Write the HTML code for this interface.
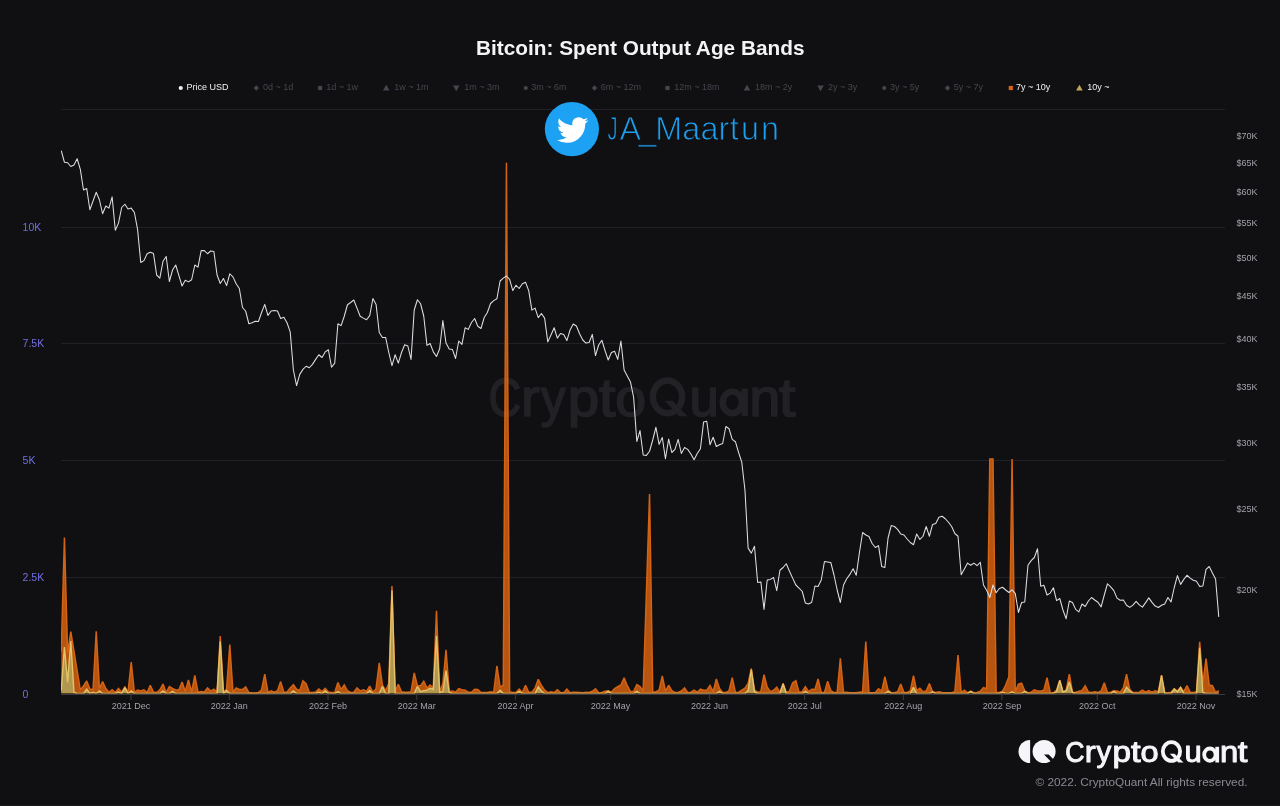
<!DOCTYPE html>
<html><head><meta charset="utf-8"><title>Bitcoin: Spent Output Age Bands</title>
<style>
html,body{margin:0;padding:0;background:#101012;}
svg{display:block;font-family:"Liberation Sans",sans-serif;will-change:transform;}
</style></head>
<body>
<svg width="1280" height="806" viewBox="0 0 1280 806">
<rect x="0" y="0" width="1280" height="806" fill="#101012"/>
<rect x="0" y="805" width="1280" height="1" fill="#1a1a1c"/>
<!-- grid -->
<line x1="61" x2="1225" y1="109.5" y2="109.5" stroke="#212027" stroke-width="1"/>
<line x1="61" x2="1225" y1="227.5" y2="227.5" stroke="#212027" stroke-width="1"/>
<line x1="61" x2="1225" y1="343.5" y2="343.5" stroke="#212027" stroke-width="1"/>
<line x1="61" x2="1225" y1="460.5" y2="460.5" stroke="#212027" stroke-width="1"/>
<line x1="61" x2="1225" y1="577.5" y2="577.5" stroke="#212027" stroke-width="1"/>
<line x1="61" x2="1225" y1="694.5" y2="694.5" stroke="#3a3a42" stroke-width="1"/>

<!-- watermark -->
<text transform="translate(488.41,415.9) scale(0.8404,1.0)" font-size="53.8" fill="#212126" stroke="#212126" stroke-width="1.6" stroke-linejoin="round">C</text>
<text transform="translate(521.11,415.9) scale(1.0498,1.0)" font-size="53.8" fill="#212126" stroke="#212126" stroke-width="1.6" stroke-linejoin="round">r</text>
<text transform="translate(540.76,415.9) scale(0.9293,1.0)" font-size="53.8" fill="#212126" stroke="#212126" stroke-width="1.6" stroke-linejoin="round">y</text>
<text transform="translate(567.84,415.9) scale(1.0501,1.0)" font-size="53.8" fill="#212126" stroke="#212126" stroke-width="1.6" stroke-linejoin="round">p</text>
<text transform="translate(599.02,415.9) scale(1.1037,1.0)" font-size="53.8" fill="#212126" stroke="#212126" stroke-width="1.6" stroke-linejoin="round">t</text>
<text transform="translate(615.13,415.9) scale(1.0304,1.0)" font-size="53.8" fill="#212126" stroke="#212126" stroke-width="1.6" stroke-linejoin="round">o</text>
<text transform="translate(689.46,415.9) scale(0.9822,1.0)" font-size="53.8" fill="#212126" stroke="#212126" stroke-width="1.6" stroke-linejoin="round">u</text>
<text transform="translate(749.21,415.9) scale(1.0414,1.0)" font-size="53.8" fill="#212126" stroke="#212126" stroke-width="1.6" stroke-linejoin="round">n</text>
<text transform="translate(779.02,415.9) scale(1.1089,1.0)" font-size="53.8" fill="#212126" stroke="#212126" stroke-width="1.6" stroke-linejoin="round">t</text>
<ellipse cx="667.47" cy="396.85" rx="14.59" ry="16.33" fill="none" stroke="#212126" stroke-width="6.46"/><polygon points="664.69,400.85 672.62,400.85 687.80,416.13 679.20,416.13" fill="#212126"/><ellipse cx="732.34" cy="402.41" rx="9.62" ry="10.77" fill="none" stroke="#212126" stroke-width="6.46"/><rect x="741.45" y="388.69" width="6.41" height="27.27" fill="#212126"/>

<!-- areas -->
<clipPath id="plot"><rect x="61" y="100" width="1164" height="593.4"/></clipPath>
<g clip-path="url(#plot)">
<polygon points="61.25,693.5 61.25,651.50 64.43,537.50 67.61,653.50 70.79,631.50 73.97,651.10 77.15,670.60 80.33,690.00 83.51,686.00 86.69,681.00 89.87,689.10 93.05,689.75 96.23,631.20 99.41,688.50 102.59,681.60 105.77,688.50 108.95,692.25 112.13,689.75 115.31,692.50 118.49,688.50 121.67,692.25 124.85,686.90 128.03,692.25 131.21,662.00 134.39,692.25 137.57,690.00 140.75,691.00 143.93,689.75 147.11,692.50 150.29,685.40 153.47,692.00 156.65,692.50 159.83,689.75 163.01,684.10 166.19,692.50 169.37,686.60 172.55,688.50 175.73,690.00 178.91,689.75 182.09,682.00 185.27,691.60 188.45,680.00 191.63,692.00 194.81,675.40 197.99,692.25 201.17,691.60 204.35,692.00 207.53,687.90 210.71,691.10 213.89,689.10 217.07,692.30 220.25,636.00 223.43,692.30 226.61,689.10 229.79,644.50 232.97,692.30 236.15,687.90 239.33,689.50 242.51,689.50 245.69,686.90 248.87,692.50 252.05,692.90 255.23,692.90 258.41,692.50 261.59,689.75 264.77,674.10 267.95,692.50 271.13,690.75 274.31,692.25 277.49,690.75 280.67,681.60 283.85,692.25 287.03,692.00 290.21,687.90 293.39,684.75 296.57,689.10 299.75,690.40 302.93,680.75 306.11,683.75 309.29,692.50 312.47,692.50 315.65,692.00 318.83,689.10 322.01,691.60 325.19,688.25 328.37,692.00 331.55,692.50 334.73,692.50 337.91,682.50 341.09,689.50 344.27,685.00 347.45,690.75 350.63,692.50 353.81,692.25 356.99,687.90 360.17,691.00 363.35,689.90 366.53,691.30 369.71,686.10 372.89,692.20 376.07,688.70 379.25,662.75 382.43,685.00 385.61,690.70 388.79,683.50 391.97,586.00 395.15,691.00 398.33,684.20 401.51,691.70 404.69,692.20 407.87,692.20 411.05,691.70 414.23,673.00 417.41,685.70 420.59,685.70 423.77,681.20 426.95,688.00 430.13,685.00 433.31,688.00 436.49,610.70 439.67,691.70 442.85,683.50 446.03,649.70 449.21,691.70 452.39,691.00 455.57,692.20 458.75,688.70 461.93,689.75 465.11,690.20 468.29,692.20 471.47,692.20 474.65,689.20 477.83,689.50 481.01,692.50 484.19,692.50 487.37,692.50 490.55,691.70 493.73,692.20 496.91,665.75 500.09,687.20 503.27,685.00 506.45,162.80 509.63,691.70 512.81,692.50 515.99,692.50 519.17,689.20 522.35,692.50 525.53,685.25 528.71,692.20 531.89,692.20 535.07,688.00 538.25,679.25 541.43,685.30 544.61,690.20 547.79,692.60 550.97,691.70 554.15,692.50 557.33,689.75 560.51,692.50 563.69,692.75 566.87,689.20 570.05,692.75 573.23,692.20 576.41,692.20 579.59,692.50 582.77,692.75 585.95,692.20 589.13,692.50 592.31,691.25 595.49,688.70 598.67,692.75 601.85,692.50 605.03,691.25 608.21,690.70 611.39,692.20 614.57,688.70 617.75,686.75 620.93,685.00 624.11,677.75 627.29,685.70 630.47,691.70 633.65,691.25 636.83,684.65 640.01,686.50 643.19,691.00 646.37,593.50 649.55,494.00 652.73,692.20 655.91,691.70 659.09,690.20 662.27,676.00 665.45,691.00 668.63,685.25 671.81,690.70 674.99,692.50 678.17,692.50 681.35,691.00 684.53,688.00 687.71,692.50 690.89,692.20 694.07,690.20 697.25,692.20 700.43,689.20 703.61,690.20 706.79,690.20 709.97,685.40 713.15,691.70 716.33,679.00 719.51,688.50 722.69,692.50 725.87,692.50 729.05,690.80 732.23,677.60 735.41,692.50 738.59,692.20 741.77,690.20 744.95,688.25 748.13,683.50 751.31,668.50 754.49,690.20 757.67,692.20 760.85,691.70 764.03,674.75 767.21,687.20 770.39,691.70 773.57,690.20 776.75,687.20 779.93,692.50 783.11,683.50 786.29,692.50 789.47,691.25 792.65,682.70 795.83,680.75 799.01,692.20 802.19,691.70 805.37,686.75 808.55,691.70 811.73,689.20 814.91,689.50 818.09,679.00 821.27,692.50 824.45,692.50 827.63,681.20 830.81,690.70 833.99,692.75 837.17,692.20 840.35,658.25 843.53,692.50 846.71,692.20 849.89,692.75 853.07,692.75 856.25,692.75 859.43,692.20 862.61,691.70 865.79,641.50 868.97,692.50 872.15,692.75 875.33,692.50 878.51,688.70 881.69,691.00 884.87,676.70 888.05,690.20 891.23,692.50 894.41,692.75 897.59,691.70 900.77,684.00 903.95,692.50 907.13,692.50 910.31,691.00 913.49,675.65 916.67,690.70 919.85,688.25 923.03,691.70 926.21,691.00 929.39,683.50 932.57,691.70 935.75,692.50 938.93,691.70 942.11,692.50 945.29,692.75 948.47,692.75 951.65,692.75 954.83,691.70 958.01,655.00 961.19,692.50 964.37,690.20 967.55,692.75 970.73,691.25 973.91,692.75 977.09,692.50 980.27,691.25 983.45,687.65 986.63,688.70 989.81,459.00 992.99,459.00 996.17,692.50 999.35,692.50 1002.53,691.25 1005.71,685.00 1008.89,676.70 1012.07,459.00 1015.25,691.70 1018.43,684.20 1021.61,683.20 1024.79,691.00 1027.97,692.75 1031.15,692.20 1034.33,689.75 1037.51,691.00 1040.69,691.00 1043.87,690.20 1047.05,677.75 1050.23,692.50 1053.41,692.75 1056.59,690.20 1059.77,680.15 1062.95,691.70 1066.13,690.20 1069.31,674.15 1072.49,692.50 1075.67,692.20 1078.85,691.25 1082.03,690.50 1085.21,685.70 1088.39,692.00 1091.57,692.40 1094.75,691.70 1097.93,692.50 1101.11,691.00 1104.29,682.70 1107.47,692.50 1110.65,692.20 1113.83,690.70 1117.01,691.00 1120.19,692.20 1123.37,688.00 1126.55,674.15 1129.73,689.50 1132.91,692.50 1136.09,692.50 1139.27,692.20 1142.45,690.20 1145.63,692.20 1148.81,690.70 1151.99,692.20 1155.17,690.70 1158.35,691.70 1161.53,675.20 1164.71,692.50 1167.89,692.75 1171.07,692.20 1174.25,688.70 1177.43,691.00 1180.61,687.20 1183.79,691.70 1186.97,685.70 1190.15,692.20 1193.33,692.50 1196.51,691.70 1199.69,641.75 1202.87,683.50 1206.05,658.70 1209.23,685.00 1212.41,685.70 1215.59,692.50 1218.77,690.70 1218.77,693.5" fill="#ea6a0f" fill-opacity="0.77"/>
<polyline points="61.25,651.50 64.43,537.50 67.61,653.50 70.79,631.50 73.97,651.10 77.15,670.60 80.33,690.00 83.51,686.00 86.69,681.00 89.87,689.10 93.05,689.75 96.23,631.20 99.41,688.50 102.59,681.60 105.77,688.50 108.95,692.25 112.13,689.75 115.31,692.50 118.49,688.50 121.67,692.25 124.85,686.90 128.03,692.25 131.21,662.00 134.39,692.25 137.57,690.00 140.75,691.00 143.93,689.75 147.11,692.50 150.29,685.40 153.47,692.00 156.65,692.50 159.83,689.75 163.01,684.10 166.19,692.50 169.37,686.60 172.55,688.50 175.73,690.00 178.91,689.75 182.09,682.00 185.27,691.60 188.45,680.00 191.63,692.00 194.81,675.40 197.99,692.25 201.17,691.60 204.35,692.00 207.53,687.90 210.71,691.10 213.89,689.10 217.07,692.30 220.25,636.00 223.43,692.30 226.61,689.10 229.79,644.50 232.97,692.30 236.15,687.90 239.33,689.50 242.51,689.50 245.69,686.90 248.87,692.50 252.05,692.90 255.23,692.90 258.41,692.50 261.59,689.75 264.77,674.10 267.95,692.50 271.13,690.75 274.31,692.25 277.49,690.75 280.67,681.60 283.85,692.25 287.03,692.00 290.21,687.90 293.39,684.75 296.57,689.10 299.75,690.40 302.93,680.75 306.11,683.75 309.29,692.50 312.47,692.50 315.65,692.00 318.83,689.10 322.01,691.60 325.19,688.25 328.37,692.00 331.55,692.50 334.73,692.50 337.91,682.50 341.09,689.50 344.27,685.00 347.45,690.75 350.63,692.50 353.81,692.25 356.99,687.90 360.17,691.00 363.35,689.90 366.53,691.30 369.71,686.10 372.89,692.20 376.07,688.70 379.25,662.75 382.43,685.00 385.61,690.70 388.79,683.50 391.97,586.00 395.15,691.00 398.33,684.20 401.51,691.70 404.69,692.20 407.87,692.20 411.05,691.70 414.23,673.00 417.41,685.70 420.59,685.70 423.77,681.20 426.95,688.00 430.13,685.00 433.31,688.00 436.49,610.70 439.67,691.70 442.85,683.50 446.03,649.70 449.21,691.70 452.39,691.00 455.57,692.20 458.75,688.70 461.93,689.75 465.11,690.20 468.29,692.20 471.47,692.20 474.65,689.20 477.83,689.50 481.01,692.50 484.19,692.50 487.37,692.50 490.55,691.70 493.73,692.20 496.91,665.75 500.09,687.20 503.27,685.00 506.45,162.80 509.63,691.70 512.81,692.50 515.99,692.50 519.17,689.20 522.35,692.50 525.53,685.25 528.71,692.20 531.89,692.20 535.07,688.00 538.25,679.25 541.43,685.30 544.61,690.20 547.79,692.60 550.97,691.70 554.15,692.50 557.33,689.75 560.51,692.50 563.69,692.75 566.87,689.20 570.05,692.75 573.23,692.20 576.41,692.20 579.59,692.50 582.77,692.75 585.95,692.20 589.13,692.50 592.31,691.25 595.49,688.70 598.67,692.75 601.85,692.50 605.03,691.25 608.21,690.70 611.39,692.20 614.57,688.70 617.75,686.75 620.93,685.00 624.11,677.75 627.29,685.70 630.47,691.70 633.65,691.25 636.83,684.65 640.01,686.50 643.19,691.00 646.37,593.50 649.55,494.00 652.73,692.20 655.91,691.70 659.09,690.20 662.27,676.00 665.45,691.00 668.63,685.25 671.81,690.70 674.99,692.50 678.17,692.50 681.35,691.00 684.53,688.00 687.71,692.50 690.89,692.20 694.07,690.20 697.25,692.20 700.43,689.20 703.61,690.20 706.79,690.20 709.97,685.40 713.15,691.70 716.33,679.00 719.51,688.50 722.69,692.50 725.87,692.50 729.05,690.80 732.23,677.60 735.41,692.50 738.59,692.20 741.77,690.20 744.95,688.25 748.13,683.50 751.31,668.50 754.49,690.20 757.67,692.20 760.85,691.70 764.03,674.75 767.21,687.20 770.39,691.70 773.57,690.20 776.75,687.20 779.93,692.50 783.11,683.50 786.29,692.50 789.47,691.25 792.65,682.70 795.83,680.75 799.01,692.20 802.19,691.70 805.37,686.75 808.55,691.70 811.73,689.20 814.91,689.50 818.09,679.00 821.27,692.50 824.45,692.50 827.63,681.20 830.81,690.70 833.99,692.75 837.17,692.20 840.35,658.25 843.53,692.50 846.71,692.20 849.89,692.75 853.07,692.75 856.25,692.75 859.43,692.20 862.61,691.70 865.79,641.50 868.97,692.50 872.15,692.75 875.33,692.50 878.51,688.70 881.69,691.00 884.87,676.70 888.05,690.20 891.23,692.50 894.41,692.75 897.59,691.70 900.77,684.00 903.95,692.50 907.13,692.50 910.31,691.00 913.49,675.65 916.67,690.70 919.85,688.25 923.03,691.70 926.21,691.00 929.39,683.50 932.57,691.70 935.75,692.50 938.93,691.70 942.11,692.50 945.29,692.75 948.47,692.75 951.65,692.75 954.83,691.70 958.01,655.00 961.19,692.50 964.37,690.20 967.55,692.75 970.73,691.25 973.91,692.75 977.09,692.50 980.27,691.25 983.45,687.65 986.63,688.70 989.81,459.00 992.99,459.00 996.17,692.50 999.35,692.50 1002.53,691.25 1005.71,685.00 1008.89,676.70 1012.07,459.00 1015.25,691.70 1018.43,684.20 1021.61,683.20 1024.79,691.00 1027.97,692.75 1031.15,692.20 1034.33,689.75 1037.51,691.00 1040.69,691.00 1043.87,690.20 1047.05,677.75 1050.23,692.50 1053.41,692.75 1056.59,690.20 1059.77,680.15 1062.95,691.70 1066.13,690.20 1069.31,674.15 1072.49,692.50 1075.67,692.20 1078.85,691.25 1082.03,690.50 1085.21,685.70 1088.39,692.00 1091.57,692.40 1094.75,691.70 1097.93,692.50 1101.11,691.00 1104.29,682.70 1107.47,692.50 1110.65,692.20 1113.83,690.70 1117.01,691.00 1120.19,692.20 1123.37,688.00 1126.55,674.15 1129.73,689.50 1132.91,692.50 1136.09,692.50 1139.27,692.20 1142.45,690.20 1145.63,692.20 1148.81,690.70 1151.99,692.20 1155.17,690.70 1158.35,691.70 1161.53,675.20 1164.71,692.50 1167.89,692.75 1171.07,692.20 1174.25,688.70 1177.43,691.00 1180.61,687.20 1183.79,691.70 1186.97,685.70 1190.15,692.20 1193.33,692.50 1196.51,691.70 1199.69,641.75 1202.87,683.50 1206.05,658.70 1209.23,685.00 1212.41,685.70 1215.59,692.50 1218.77,690.70" fill="none" stroke="#d46314" stroke-width="1.5" stroke-linejoin="miter" stroke-miterlimit="2"/>
<polygon points="61.25,693.5 61.25,690.50 64.43,647.00 67.61,682.50 70.79,641.00 73.97,692.50 77.15,693.50 80.33,693.50 83.51,693.50 86.69,689.10 89.87,693.50 93.05,692.30 96.23,693.50 99.41,691.00 102.59,693.50 105.77,693.50 108.95,693.50 112.13,693.50 115.31,693.50 118.49,692.00 121.67,693.50 124.85,687.60 128.03,693.50 131.21,691.00 134.39,693.50 137.57,693.50 140.75,693.50 143.93,693.50 147.11,693.50 150.29,693.50 153.47,693.50 156.65,693.50 159.83,693.50 163.01,691.00 166.19,693.50 169.37,693.50 172.55,691.25 175.73,693.50 178.91,693.50 182.09,693.50 185.27,693.50 188.45,693.50 191.63,693.50 194.81,693.50 197.99,693.50 201.17,693.50 204.35,693.50 207.53,693.50 210.71,693.50 213.89,693.50 217.07,693.50 220.25,641.60 223.43,693.50 226.61,690.40 229.79,693.50 232.97,693.50 236.15,693.50 239.33,693.50 242.51,693.50 245.69,693.50 248.87,693.50 252.05,693.50 255.23,693.50 258.41,693.50 261.59,693.50 264.77,693.50 267.95,693.50 271.13,693.50 274.31,693.50 277.49,693.50 280.67,693.50 283.85,693.50 287.03,693.50 290.21,693.50 293.39,691.00 296.57,693.50 299.75,693.50 302.93,693.50 306.11,693.50 309.29,693.50 312.47,693.50 315.65,693.50 318.83,692.30 322.01,693.50 325.19,691.00 328.37,693.50 331.55,693.50 334.73,693.50 337.91,691.60 341.09,693.50 344.27,693.50 347.45,693.50 350.63,693.50 353.81,693.50 356.99,693.50 360.17,693.50 363.35,693.50 366.53,693.50 369.71,690.50 372.89,693.50 376.07,693.50 379.25,693.50 382.43,686.50 385.61,693.50 388.79,693.50 391.97,590.50 395.15,693.50 398.33,693.50 401.51,693.50 404.69,693.50 407.87,693.50 411.05,693.50 414.23,693.50 417.41,686.50 420.59,691.70 423.77,690.70 426.95,690.20 430.13,688.25 433.31,689.50 436.49,635.75 439.67,692.50 442.85,691.50 446.03,670.70 449.21,692.50 452.39,693.50 455.57,693.50 458.75,693.50 461.93,693.50 465.11,693.50 468.29,693.50 471.47,693.50 474.65,693.50 477.83,693.50 481.01,693.50 484.19,693.50 487.37,693.50 490.55,693.50 493.73,693.50 496.91,693.50 500.09,690.20 503.27,693.50 506.45,693.50 509.63,693.50 512.81,693.50 515.99,693.50 519.17,691.25 522.35,693.50 525.53,693.50 528.71,693.50 531.89,693.50 535.07,693.50 538.25,686.75 541.43,691.00 544.61,693.50 547.79,693.50 550.97,693.50 554.15,693.50 557.33,693.50 560.51,693.50 563.69,693.50 566.87,693.50 570.05,693.50 573.23,693.50 576.41,693.50 579.59,693.50 582.77,693.50 585.95,693.50 589.13,693.50 592.31,693.50 595.49,693.50 598.67,693.50 601.85,693.50 605.03,693.50 608.21,691.25 611.39,693.50 614.57,693.50 617.75,693.50 620.93,693.50 624.11,693.50 627.29,693.50 630.47,693.50 633.65,693.50 636.83,691.25 640.01,693.50 643.19,693.50 646.37,693.50 649.55,693.50 652.73,693.50 655.91,693.50 659.09,693.50 662.27,693.50 665.45,693.50 668.63,693.50 671.81,693.50 674.99,693.50 678.17,693.50 681.35,693.50 684.53,693.50 687.71,693.50 690.89,693.50 694.07,693.50 697.25,693.50 700.43,693.50 703.61,693.50 706.79,693.50 709.97,693.50 713.15,693.50 716.33,693.50 719.51,691.25 722.69,693.50 725.87,693.50 729.05,693.50 732.23,693.50 735.41,693.50 738.59,693.50 741.77,693.50 744.95,693.50 748.13,690.50 751.31,669.50 754.49,692.00 757.67,693.50 760.85,693.50 764.03,693.50 767.21,693.50 770.39,693.50 773.57,693.50 776.75,693.50 779.93,693.50 783.11,683.75 786.29,693.50 789.47,693.50 792.65,693.50 795.83,693.50 799.01,693.50 802.19,693.50 805.37,691.25 808.55,693.50 811.73,693.50 814.91,693.50 818.09,693.50 821.27,693.50 824.45,693.50 827.63,693.50 830.81,693.50 833.99,693.50 837.17,693.50 840.35,693.50 843.53,693.50 846.71,693.50 849.89,693.50 853.07,693.50 856.25,693.50 859.43,693.50 862.61,693.50 865.79,693.50 868.97,693.50 872.15,693.50 875.33,693.50 878.51,693.50 881.69,693.50 884.87,693.50 888.05,691.25 891.23,693.50 894.41,693.50 897.59,693.50 900.77,693.50 903.95,693.50 907.13,693.50 910.31,693.50 913.49,687.20 916.67,693.50 919.85,693.50 923.03,693.50 926.21,693.50 929.39,693.50 932.57,691.70 935.75,693.50 938.93,693.50 942.11,693.50 945.29,693.50 948.47,693.50 951.65,693.50 954.83,693.50 958.01,693.50 961.19,693.50 964.37,693.50 967.55,693.50 970.73,691.25 973.91,693.50 977.09,693.50 980.27,693.50 983.45,693.50 986.63,693.50 989.81,693.50 992.99,693.50 996.17,693.50 999.35,693.50 1002.53,692.20 1005.71,693.50 1008.89,693.50 1012.07,691.70 1015.25,693.50 1018.43,693.50 1021.61,693.50 1024.79,691.25 1027.97,693.50 1031.15,693.50 1034.33,693.50 1037.51,693.50 1040.69,693.50 1043.87,693.50 1047.05,693.50 1050.23,693.50 1053.41,693.50 1056.59,691.50 1059.77,680.50 1062.95,692.00 1066.13,691.00 1069.31,682.00 1072.49,692.50 1075.67,693.50 1078.85,693.50 1082.03,693.50 1085.21,693.50 1088.39,693.50 1091.57,693.50 1094.75,693.50 1097.93,693.50 1101.11,693.50 1104.29,693.50 1107.47,693.50 1110.65,693.50 1113.83,691.25 1117.01,693.50 1120.19,693.50 1123.37,693.50 1126.55,687.20 1129.73,690.70 1132.91,693.50 1136.09,693.50 1139.27,693.50 1142.45,693.50 1145.63,693.50 1148.81,693.50 1151.99,693.50 1155.17,693.50 1158.35,693.50 1161.53,675.50 1164.71,693.50 1167.89,693.50 1171.07,693.50 1174.25,689.00 1177.43,692.00 1180.61,687.50 1183.79,693.50 1186.97,693.50 1190.15,693.50 1193.33,693.50 1196.51,693.50 1199.69,647.75 1202.87,692.50 1206.05,693.50 1209.23,693.50 1212.41,693.50 1215.59,693.50 1218.77,693.50 1218.77,693.5" fill="#b09c54" fill-opacity="0.95"/>
<polyline points="61.25,690.50 64.43,647.00 67.61,682.50 70.79,641.00 73.97,692.50 77.15,693.50 80.33,693.50 83.51,693.50 86.69,689.10 89.87,693.50 93.05,692.30 96.23,693.50 99.41,691.00 102.59,693.50 105.77,693.50 108.95,693.50 112.13,693.50 115.31,693.50 118.49,692.00 121.67,693.50 124.85,687.60 128.03,693.50 131.21,691.00 134.39,693.50 137.57,693.50 140.75,693.50 143.93,693.50 147.11,693.50 150.29,693.50 153.47,693.50 156.65,693.50 159.83,693.50 163.01,691.00 166.19,693.50 169.37,693.50 172.55,691.25 175.73,693.50 178.91,693.50 182.09,693.50 185.27,693.50 188.45,693.50 191.63,693.50 194.81,693.50 197.99,693.50 201.17,693.50 204.35,693.50 207.53,693.50 210.71,693.50 213.89,693.50 217.07,693.50 220.25,641.60 223.43,693.50 226.61,690.40 229.79,693.50 232.97,693.50 236.15,693.50 239.33,693.50 242.51,693.50 245.69,693.50 248.87,693.50 252.05,693.50 255.23,693.50 258.41,693.50 261.59,693.50 264.77,693.50 267.95,693.50 271.13,693.50 274.31,693.50 277.49,693.50 280.67,693.50 283.85,693.50 287.03,693.50 290.21,693.50 293.39,691.00 296.57,693.50 299.75,693.50 302.93,693.50 306.11,693.50 309.29,693.50 312.47,693.50 315.65,693.50 318.83,692.30 322.01,693.50 325.19,691.00 328.37,693.50 331.55,693.50 334.73,693.50 337.91,691.60 341.09,693.50 344.27,693.50 347.45,693.50 350.63,693.50 353.81,693.50 356.99,693.50 360.17,693.50 363.35,693.50 366.53,693.50 369.71,690.50 372.89,693.50 376.07,693.50 379.25,693.50 382.43,686.50 385.61,693.50 388.79,693.50 391.97,590.50 395.15,693.50 398.33,693.50 401.51,693.50 404.69,693.50 407.87,693.50 411.05,693.50 414.23,693.50 417.41,686.50 420.59,691.70 423.77,690.70 426.95,690.20 430.13,688.25 433.31,689.50 436.49,635.75 439.67,692.50 442.85,691.50 446.03,670.70 449.21,692.50 452.39,693.50 455.57,693.50 458.75,693.50 461.93,693.50 465.11,693.50 468.29,693.50 471.47,693.50 474.65,693.50 477.83,693.50 481.01,693.50 484.19,693.50 487.37,693.50 490.55,693.50 493.73,693.50 496.91,693.50 500.09,690.20 503.27,693.50 506.45,693.50 509.63,693.50 512.81,693.50 515.99,693.50 519.17,691.25 522.35,693.50 525.53,693.50 528.71,693.50 531.89,693.50 535.07,693.50 538.25,686.75 541.43,691.00 544.61,693.50 547.79,693.50 550.97,693.50 554.15,693.50 557.33,693.50 560.51,693.50 563.69,693.50 566.87,693.50 570.05,693.50 573.23,693.50 576.41,693.50 579.59,693.50 582.77,693.50 585.95,693.50 589.13,693.50 592.31,693.50 595.49,693.50 598.67,693.50 601.85,693.50 605.03,693.50 608.21,691.25 611.39,693.50 614.57,693.50 617.75,693.50 620.93,693.50 624.11,693.50 627.29,693.50 630.47,693.50 633.65,693.50 636.83,691.25 640.01,693.50 643.19,693.50 646.37,693.50 649.55,693.50 652.73,693.50 655.91,693.50 659.09,693.50 662.27,693.50 665.45,693.50 668.63,693.50 671.81,693.50 674.99,693.50 678.17,693.50 681.35,693.50 684.53,693.50 687.71,693.50 690.89,693.50 694.07,693.50 697.25,693.50 700.43,693.50 703.61,693.50 706.79,693.50 709.97,693.50 713.15,693.50 716.33,693.50 719.51,691.25 722.69,693.50 725.87,693.50 729.05,693.50 732.23,693.50 735.41,693.50 738.59,693.50 741.77,693.50 744.95,693.50 748.13,690.50 751.31,669.50 754.49,692.00 757.67,693.50 760.85,693.50 764.03,693.50 767.21,693.50 770.39,693.50 773.57,693.50 776.75,693.50 779.93,693.50 783.11,683.75 786.29,693.50 789.47,693.50 792.65,693.50 795.83,693.50 799.01,693.50 802.19,693.50 805.37,691.25 808.55,693.50 811.73,693.50 814.91,693.50 818.09,693.50 821.27,693.50 824.45,693.50 827.63,693.50 830.81,693.50 833.99,693.50 837.17,693.50 840.35,693.50 843.53,693.50 846.71,693.50 849.89,693.50 853.07,693.50 856.25,693.50 859.43,693.50 862.61,693.50 865.79,693.50 868.97,693.50 872.15,693.50 875.33,693.50 878.51,693.50 881.69,693.50 884.87,693.50 888.05,691.25 891.23,693.50 894.41,693.50 897.59,693.50 900.77,693.50 903.95,693.50 907.13,693.50 910.31,693.50 913.49,687.20 916.67,693.50 919.85,693.50 923.03,693.50 926.21,693.50 929.39,693.50 932.57,691.70 935.75,693.50 938.93,693.50 942.11,693.50 945.29,693.50 948.47,693.50 951.65,693.50 954.83,693.50 958.01,693.50 961.19,693.50 964.37,693.50 967.55,693.50 970.73,691.25 973.91,693.50 977.09,693.50 980.27,693.50 983.45,693.50 986.63,693.50 989.81,693.50 992.99,693.50 996.17,693.50 999.35,693.50 1002.53,692.20 1005.71,693.50 1008.89,693.50 1012.07,691.70 1015.25,693.50 1018.43,693.50 1021.61,693.50 1024.79,691.25 1027.97,693.50 1031.15,693.50 1034.33,693.50 1037.51,693.50 1040.69,693.50 1043.87,693.50 1047.05,693.50 1050.23,693.50 1053.41,693.50 1056.59,691.50 1059.77,680.50 1062.95,692.00 1066.13,691.00 1069.31,682.00 1072.49,692.50 1075.67,693.50 1078.85,693.50 1082.03,693.50 1085.21,693.50 1088.39,693.50 1091.57,693.50 1094.75,693.50 1097.93,693.50 1101.11,693.50 1104.29,693.50 1107.47,693.50 1110.65,693.50 1113.83,691.25 1117.01,693.50 1120.19,693.50 1123.37,693.50 1126.55,687.20 1129.73,690.70 1132.91,693.50 1136.09,693.50 1139.27,693.50 1142.45,693.50 1145.63,693.50 1148.81,693.50 1151.99,693.50 1155.17,693.50 1158.35,693.50 1161.53,675.50 1164.71,693.50 1167.89,693.50 1171.07,693.50 1174.25,689.00 1177.43,692.00 1180.61,687.50 1183.79,693.50 1186.97,693.50 1190.15,693.50 1193.33,693.50 1196.51,693.50 1199.69,647.75 1202.87,692.50 1206.05,693.50 1209.23,693.50 1212.41,693.50 1215.59,693.50 1218.77,693.50" fill="none" stroke="#e4c268" stroke-width="1.4" stroke-linejoin="miter" stroke-miterlimit="2"/>
<polyline points="61.25,150.60 64.43,162.25 67.61,162.75 70.79,166.50 73.97,165.00 77.15,158.75 80.33,169.40 83.51,190.00 86.69,188.50 89.87,209.75 93.05,201.00 96.23,192.25 99.41,199.75 102.59,213.75 105.77,206.00 108.95,208.10 112.13,196.90 115.31,230.25 118.49,223.10 121.67,207.50 124.85,204.25 128.03,209.00 131.21,208.10 134.39,212.50 137.57,229.40 140.75,262.50 143.93,260.60 147.11,253.75 150.29,252.25 153.47,253.50 156.65,275.00 159.83,278.10 163.01,261.25 166.19,256.50 169.37,281.50 172.55,270.00 175.73,265.00 178.91,275.60 182.09,286.00 185.27,280.25 188.45,281.90 191.63,279.75 194.81,265.00 197.99,267.10 201.17,250.60 204.35,250.60 207.53,253.75 210.71,251.00 213.89,251.50 217.07,275.00 220.25,283.50 223.43,278.50 226.61,285.60 229.79,273.75 232.97,276.90 236.15,283.75 239.33,288.50 242.51,307.50 245.69,311.25 248.87,323.75 252.05,322.75 255.23,321.25 258.41,321.50 261.59,312.50 264.77,304.40 267.95,315.40 271.13,311.00 274.31,310.60 277.49,311.00 280.67,318.50 283.85,317.25 287.03,322.75 290.21,331.90 293.39,370.00 296.57,385.60 299.75,374.40 302.93,369.40 306.11,366.25 309.29,367.75 312.47,364.40 315.65,359.40 318.83,354.75 322.01,357.50 325.19,351.90 328.37,349.75 331.55,367.25 334.73,363.10 337.91,323.75 341.09,325.60 344.27,316.25 347.45,304.75 350.63,302.50 353.81,300.00 356.99,308.10 360.17,316.25 363.35,318.10 366.53,319.75 369.71,315.60 372.89,298.50 376.07,304.40 379.25,332.50 382.43,337.50 385.61,337.40 388.79,352.50 391.97,365.60 395.15,354.75 398.33,363.10 401.51,352.50 404.69,344.75 407.87,346.00 411.05,359.40 414.23,310.00 417.41,299.75 420.59,303.75 423.77,316.25 426.95,345.40 430.13,343.50 433.31,351.90 436.49,356.50 439.67,348.75 442.85,320.60 446.03,343.10 449.21,349.00 452.39,349.40 455.57,358.50 458.75,341.00 461.93,344.40 465.11,327.75 468.29,329.40 471.47,322.50 474.65,318.50 477.83,326.25 481.01,328.50 484.19,317.50 487.37,312.50 490.55,303.50 493.73,300.60 496.91,298.75 500.09,281.00 503.27,278.10 506.45,276.00 509.63,279.40 512.81,290.60 515.99,285.25 519.17,288.50 522.35,283.75 525.53,282.25 528.71,290.60 531.89,310.10 535.07,308.10 538.25,317.60 541.43,313.50 544.61,318.10 547.79,341.90 550.97,335.00 554.15,327.75 557.33,338.10 560.51,333.50 563.69,334.40 566.87,340.60 570.05,330.00 573.23,324.00 576.41,326.00 579.59,333.75 582.77,340.00 585.95,343.10 589.13,342.50 592.31,334.40 595.49,355.60 598.67,345.00 601.85,340.25 605.03,350.60 608.21,360.00 611.39,352.50 614.57,351.25 617.75,359.40 620.93,341.00 624.11,370.00 627.29,376.10 630.47,381.90 633.65,397.50 636.83,441.50 640.01,430.60 643.19,455.00 646.37,455.40 649.55,451.25 652.73,440.00 655.91,427.25 659.09,444.40 662.27,437.50 665.45,458.75 668.63,439.10 671.81,452.50 674.99,449.40 678.17,439.40 681.35,453.50 684.53,447.50 687.71,449.40 690.89,454.00 694.07,459.75 697.25,453.50 700.43,448.75 703.61,421.90 706.79,421.25 709.97,444.75 713.15,437.25 716.33,446.50 719.51,444.75 722.69,443.50 725.87,426.50 729.05,428.75 732.23,439.40 735.41,441.70 738.59,452.50 741.77,462.20 744.95,490.00 748.13,548.10 751.31,553.10 754.49,546.25 757.67,582.50 760.85,581.90 764.03,609.40 767.21,580.00 770.39,579.40 773.57,577.50 776.75,590.60 779.93,570.25 783.11,567.50 786.29,563.75 789.47,571.25 792.65,578.10 795.83,585.00 799.01,588.10 802.19,591.25 805.37,603.10 808.55,604.00 811.73,602.25 814.91,586.00 818.09,586.50 821.27,580.00 824.45,561.50 827.63,561.90 830.81,562.50 833.99,575.00 837.17,590.00 840.35,602.50 843.53,585.00 846.71,578.75 849.89,574.40 853.07,568.75 856.25,575.25 859.43,552.50 862.61,532.50 865.79,535.00 868.97,536.50 872.15,543.50 875.33,547.50 878.51,545.60 881.69,566.40 884.87,567.50 888.05,538.00 891.23,525.60 894.41,526.50 897.59,529.40 900.77,534.00 903.95,535.00 907.13,539.00 910.31,542.50 913.49,544.75 916.67,534.00 919.85,539.40 923.03,536.25 926.21,526.50 929.39,536.25 932.57,524.40 935.75,523.50 938.93,517.25 942.11,516.25 945.29,518.75 948.47,522.25 951.65,526.50 954.83,533.50 958.01,536.25 961.19,574.75 964.37,569.00 967.55,563.10 970.73,565.25 973.91,563.10 977.09,565.60 980.27,562.25 983.45,585.00 986.63,590.25 989.81,597.50 992.99,585.00 996.17,592.75 999.35,588.50 1002.53,587.25 1005.71,590.00 1008.89,592.50 1012.07,589.90 1015.25,593.40 1018.43,612.50 1021.61,602.50 1024.79,601.90 1027.97,565.30 1031.15,560.60 1034.33,557.50 1037.51,548.75 1040.69,586.25 1043.87,585.25 1047.05,595.00 1050.23,593.10 1053.41,587.75 1056.59,600.60 1059.77,598.50 1062.95,610.00 1066.13,618.75 1069.31,601.00 1072.49,602.50 1075.67,609.40 1078.85,611.90 1082.03,604.00 1085.21,606.50 1088.39,601.00 1091.57,597.50 1094.75,600.00 1097.93,602.25 1101.11,606.90 1104.29,595.00 1107.47,583.75 1110.65,586.90 1113.83,590.60 1117.01,598.10 1120.19,600.25 1123.37,600.10 1126.55,605.30 1129.73,607.40 1132.91,605.10 1136.09,601.40 1139.27,604.90 1142.45,607.10 1145.63,602.60 1148.81,597.90 1151.99,602.40 1155.17,606.10 1158.35,607.50 1161.53,605.25 1164.71,604.00 1167.89,597.50 1171.07,601.90 1174.25,587.50 1177.43,575.60 1180.61,584.40 1183.79,579.40 1186.97,575.25 1190.15,578.10 1193.33,580.25 1196.51,581.25 1199.69,586.50 1202.87,586.00 1206.05,569.40 1209.23,566.50 1212.41,573.10 1215.59,579.00 1218.77,616.90" fill="none" stroke="#dedee2" stroke-width="1.05" stroke-linejoin="round"/>
</g>
<g>
<!-- axes labels -->
<text x="22.6" y="230.8" font-size="10.5" fill="#7070e2">10K</text>
<text x="22.6" y="347.3" font-size="10.5" fill="#7070e2">7.5K</text>
<text x="22.6" y="464.3" font-size="10.5" fill="#7070e2">5K</text>
<text x="22.6" y="581.3" font-size="10.5" fill="#7070e2">2.5K</text>
<text x="22.6" y="698.3" font-size="10.5" fill="#7070e2">0</text>

<text x="1236.5" y="138.90" font-size="9" fill="#a2a2ab">$70K</text>
<text x="1236.5" y="165.74" font-size="9" fill="#a2a2ab">$65K</text>
<text x="1236.5" y="194.74" font-size="9" fill="#a2a2ab">$60K</text>
<text x="1236.5" y="226.26" font-size="9" fill="#a2a2ab">$55K</text>
<text x="1236.5" y="260.78" font-size="9" fill="#a2a2ab">$50K</text>
<text x="1236.5" y="298.95" font-size="9" fill="#a2a2ab">$45K</text>
<text x="1236.5" y="341.61" font-size="9" fill="#a2a2ab">$40K</text>
<text x="1236.5" y="389.98" font-size="9" fill="#a2a2ab">$35K</text>
<text x="1236.5" y="445.82" font-size="9" fill="#a2a2ab">$30K</text>
<text x="1236.5" y="511.86" font-size="9" fill="#a2a2ab">$25K</text>
<text x="1236.5" y="592.69" font-size="9" fill="#a2a2ab">$20K</text>
<text x="1236.5" y="696.90" font-size="9" fill="#a2a2ab">$15K</text>

<line x1="131.0" x2="131.0" y1="695" y2="700" stroke="#3a3a42" stroke-width="1"/>
<text x="131" y="709" font-size="9" fill="#a2a2ab" text-anchor="middle">2021 Dec</text>
<line x1="229.3" x2="229.3" y1="695" y2="700" stroke="#3a3a42" stroke-width="1"/>
<text x="229.3" y="709" font-size="9" fill="#a2a2ab" text-anchor="middle">2022 Jan</text>
<line x1="328.0" x2="328.0" y1="695" y2="700" stroke="#3a3a42" stroke-width="1"/>
<text x="328" y="709" font-size="9" fill="#a2a2ab" text-anchor="middle">2022 Feb</text>
<line x1="416.8" x2="416.8" y1="695" y2="700" stroke="#3a3a42" stroke-width="1"/>
<text x="416.8" y="709" font-size="9" fill="#a2a2ab" text-anchor="middle">2022 Mar</text>
<line x1="515.4" x2="515.4" y1="695" y2="700" stroke="#3a3a42" stroke-width="1"/>
<text x="515.4" y="709" font-size="9" fill="#a2a2ab" text-anchor="middle">2022 Apr</text>
<line x1="610.6" x2="610.6" y1="695" y2="700" stroke="#3a3a42" stroke-width="1"/>
<text x="610.6" y="709" font-size="9" fill="#a2a2ab" text-anchor="middle">2022 May</text>
<line x1="709.4" x2="709.4" y1="695" y2="700" stroke="#3a3a42" stroke-width="1"/>
<text x="709.4" y="709" font-size="9" fill="#a2a2ab" text-anchor="middle">2022 Jun</text>
<line x1="804.7" x2="804.7" y1="695" y2="700" stroke="#3a3a42" stroke-width="1"/>
<text x="804.7" y="709" font-size="9" fill="#a2a2ab" text-anchor="middle">2022 Jul</text>
<line x1="903.3" x2="903.3" y1="695" y2="700" stroke="#3a3a42" stroke-width="1"/>
<text x="903.3" y="709" font-size="9" fill="#a2a2ab" text-anchor="middle">2022 Aug</text>
<line x1="1001.9" x2="1001.9" y1="695" y2="700" stroke="#3a3a42" stroke-width="1"/>
<text x="1001.9" y="709" font-size="9" fill="#a2a2ab" text-anchor="middle">2022 Sep</text>
<line x1="1097.2" x2="1097.2" y1="695" y2="700" stroke="#3a3a42" stroke-width="1"/>
<text x="1097.2" y="709" font-size="9" fill="#a2a2ab" text-anchor="middle">2022 Oct</text>
<line x1="1196.0" x2="1196.0" y1="695" y2="700" stroke="#3a3a42" stroke-width="1"/>
<text x="1196" y="709" font-size="9" fill="#a2a2ab" text-anchor="middle">2022 Nov</text>

<!-- title -->
<text x="476" y="54.8" font-size="20.4" font-weight="bold" fill="#f4f4f6" textLength="328.5" lengthAdjust="spacingAndGlyphs">Bitcoin: Spent Output Age Bands</text>
<!-- legend -->
<circle cx="180.75" cy="88" r="2.1" fill="#f0f0f4"/><text x="186.5" y="90.4" font-size="9" fill="#f0f0f4">Price USD</text>
<path d="M256.25,85.2 L259.05,88 L256.25,90.8 L253.45,88 Z" fill="#45454e"/><text x="263" y="90.4" font-size="9" fill="#45454e">0d ~ 1d</text>
<rect x="317.9" y="85.9" width="4.2" height="4.2" fill="#45454e"/><text x="326.25" y="90.4" font-size="9" fill="#45454e">1d ~ 1w</text>
<path d="M386.25,84.8 L389.55,90.6 L382.95,90.6 Z" fill="#45454e"/><text x="394.25" y="90.4" font-size="9" fill="#45454e">1w ~ 1m</text>
<path d="M456.25,91.2 L459.55,85.4 L452.95,85.4 Z" fill="#45454e"/><text x="464.25" y="90.4" font-size="9" fill="#45454e">1m ~ 3m</text>
<circle cx="525.75" cy="88" r="2.1" fill="#45454e"/><text x="531.25" y="90.4" font-size="9" fill="#45454e">3m ~ 6m</text>
<path d="M594.5,85.2 L597.3,88 L594.5,90.8 L591.7,88 Z" fill="#45454e"/><text x="600.75" y="90.4" font-size="9" fill="#45454e">6m ~ 12m</text>
<rect x="665.4" y="85.9" width="4.2" height="4.2" fill="#45454e"/><text x="674.25" y="90.4" font-size="9" fill="#45454e">12m ~ 18m</text>
<path d="M747,84.8 L750.3,90.6 L743.7,90.6 Z" fill="#45454e"/><text x="755" y="90.4" font-size="9" fill="#45454e">18m ~ 2y</text>
<path d="M820.5,91.2 L823.8,85.4 L817.2,85.4 Z" fill="#45454e"/><text x="828" y="90.4" font-size="9" fill="#45454e">2y ~ 3y</text>
<circle cx="884.25" cy="88" r="2.1" fill="#45454e"/><text x="890" y="90.4" font-size="9" fill="#45454e">3y ~ 5y</text>
<path d="M947.5,85.2 L950.3,88 L947.5,90.8 L944.7,88 Z" fill="#45454e"/><text x="953.75" y="90.4" font-size="9" fill="#45454e">5y ~ 7y</text>
<rect x="1008.6999999999999" y="85.9" width="4.2" height="4.2" fill="#d2651a"/><text x="1016" y="90.4" font-size="9" fill="#f0f0f4">7y ~ 10y</text>
<path d="M1079.4,84.8 L1082.7,90.6 L1076.1000000000001,90.6 Z" fill="#c0a55a"/><text x="1087.25" y="90.4" font-size="9" fill="#f0f0f4">10y ~</text>

<!-- twitter -->
<circle cx="571.9" cy="129.1" r="27.1" fill="#1da1f2"/>
<g transform="translate(557.0,114.35) scale(1.31)"><path d="M23.953 4.57a10 10 0 01-2.825.775 4.958 4.958 0 002.163-2.723c-.951.555-2.005.959-3.127 1.184a4.92 4.92 0 00-8.384 4.482C7.69 8.095 4.067 6.13 1.64 3.162a4.822 4.822 0 00-.666 2.475c0 1.71.87 3.213 2.188 4.096a4.904 4.904 0 01-2.228-.616v.06a4.923 4.923 0 003.946 4.827 4.996 4.996 0 01-2.212.085 4.936 4.936 0 004.604 3.417 9.867 9.867 0 01-6.102 2.105c-.39 0-.779-.023-1.17-.067a13.995 13.995 0 007.557 2.209c9.053 0 13.998-7.496 13.998-13.985 0-.21 0-.42-.015-.63A9.935 9.935 0 0024 4.59z" fill="#ffffff"/></g>
<g font-size="32.4" fill="#1d9fef" stroke="#101012" stroke-width="0.9">
<text transform="translate(607.6,140.4) scale(0.62,1)" x="0" y="0">J</text>
<text y="140.4" x="619.4 638.4 655.3 682.2 700.5 718.6 729.8 741 761">A_Maartun</text>
</g>
<!-- logo -->
<path d="M1030.1,739.9 A11.6,11.6 0 0 0 1030.1,763.1 Z" fill="#f6f6fa"/>
<circle cx="1044.1" cy="751.5" r="11.5" fill="#f6f6fa"/>
<polygon points="1044,754.6 1048.7,754.6 1057,762.9 1052.3,762.9" fill="#101012"/>
<text transform="translate(1065.37,762.2) scale(0.9000,1.0)" font-size="29.6" fill="#f6f6fa" stroke="#f6f6fa" stroke-width="1.0" stroke-linejoin="round">C</text>
<text transform="translate(1084.78,762.2) scale(1.1155,1.0)" font-size="29.6" fill="#f6f6fa" stroke="#f6f6fa" stroke-width="1.0" stroke-linejoin="round">r</text>
<text transform="translate(1096.40,762.2) scale(0.9937,1.0)" font-size="29.6" fill="#f6f6fa" stroke="#f6f6fa" stroke-width="1.0" stroke-linejoin="round">y</text>
<text transform="translate(1112.47,762.2) scale(1.1221,1.0)" font-size="29.6" fill="#f6f6fa" stroke="#f6f6fa" stroke-width="1.0" stroke-linejoin="round">p</text>
<text transform="translate(1130.94,762.2) scale(1.1733,1.0)" font-size="29.6" fill="#f6f6fa" stroke="#f6f6fa" stroke-width="1.0" stroke-linejoin="round">t</text>
<text transform="translate(1140.50,762.2) scale(1.1014,1.0)" font-size="29.6" fill="#f6f6fa" stroke="#f6f6fa" stroke-width="1.0" stroke-linejoin="round">o</text>
<text transform="translate(1184.56,762.2) scale(1.0490,1.0)" font-size="29.6" fill="#f6f6fa" stroke="#f6f6fa" stroke-width="1.0" stroke-linejoin="round">u</text>
<text transform="translate(1219.98,762.2) scale(1.1124,1.0)" font-size="29.6" fill="#f6f6fa" stroke="#f6f6fa" stroke-width="1.0" stroke-linejoin="round">n</text>
<text transform="translate(1237.64,762.2) scale(1.1788,1.0)" font-size="29.6" fill="#f6f6fa" stroke="#f6f6fa" stroke-width="1.0" stroke-linejoin="round">t</text>
<ellipse cx="1171.45" cy="751.50" rx="8.65" ry="9.40" fill="none" stroke="#f6f6fa" stroke-width="3.80"/><polygon points="1169.80,753.80 1174.50,753.80 1183.50,762.60 1178.40,762.60" fill="#f6f6fa"/><ellipse cx="1209.90" cy="754.70" rx="5.70" ry="6.20" fill="none" stroke="#f6f6fa" stroke-width="3.80"/><rect x="1215.30" y="746.80" width="3.80" height="15.70" fill="#f6f6fa"/>

<text x="1247.5" y="785.7" font-size="11" fill="#8a8a94" text-anchor="end" textLength="212" lengthAdjust="spacingAndGlyphs">© 2022. CryptoQuant All rights reserved.</text>
</g>
</svg>
</body></html>
